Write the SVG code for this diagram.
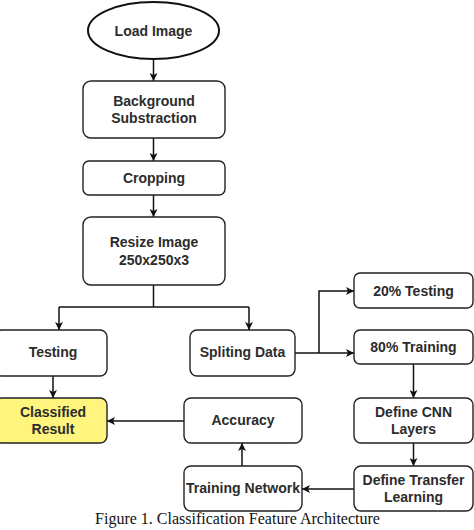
<svg xmlns="http://www.w3.org/2000/svg" width="474" height="530" viewBox="0 0 474 530">
<defs>
<style>
.n{fill:#fff;stroke:#222;stroke-width:1.4}
.y{fill:#fff47e}
.t{font-family:"Liberation Sans",Arial,sans-serif;font-size:14px;font-weight:bold;fill:#2c2c2c;text-anchor:middle}
.c{fill:none;stroke:#111;stroke-width:1.5}
.cap{font-family:"Liberation Serif","Times New Roman",serif;font-size:16px;fill:#111;text-anchor:middle}
</style>
<marker id="a" viewBox="0 0 10 10" refX="10" refY="5" markerWidth="8" markerHeight="8" markerUnits="userSpaceOnUse" orient="auto">
<path d="M0,0 L10,5 L0,10 L2.5,5 Z" fill="#111"/>
</marker>
</defs>
<rect width="474" height="530" fill="#fff"/>
<g id="connectors">
<path class="c" d="M153.5,59 V81" marker-end="url(#a)"/>
<path class="c" d="M153.5,138 V161" marker-end="url(#a)"/>
<path class="c" d="M153.5,195 V217" marker-end="url(#a)"/>
<path class="c" d="M153.5,285 V307"/>
<path class="c" d="M59,307 H249"/>
<path class="c" d="M59,307 V330" marker-end="url(#a)"/>
<path class="c" d="M249,307 V330" marker-end="url(#a)"/>
<path class="c" d="M295,353 H354" marker-end="url(#a)"/>
<path class="c" d="M319,353 V291 H354" marker-end="url(#a)"/>
<path class="c" d="M413.5,364 V398" marker-end="url(#a)"/>
<path class="c" d="M413.5,443 V466" marker-end="url(#a)"/>
<path class="c" d="M354,489 H302" marker-end="url(#a)"/>
<path class="c" d="M242,466 V443" marker-end="url(#a)"/>
<path class="c" d="M184,421 H107" marker-end="url(#a)"/>
<path class="c" d="M53,376 V398" marker-end="url(#a)"/>
</g>
<g id="load-image">
<ellipse cx="153.5" cy="30.5" rx="65.5" ry="28.5" fill="#fff" stroke="#111" stroke-width="2"/>
<text class="t" x="153.5" y="35.5">Load Image</text>
</g>
<g id="background-substraction">
<rect class="n" x="83" y="81" width="142" height="57" rx="8"/>
<text class="t" x="154" y="106">Background</text>
<text class="t" x="154" y="123">Substraction</text>
</g>
<g id="cropping">
<rect class="n" x="83" y="161" width="142" height="34" rx="6"/>
<text class="t" x="154" y="182.5">Cropping</text>
</g>
<g id="resize-image">
<rect class="n" x="83" y="217" width="142" height="68" rx="8"/>
<text class="t" x="154" y="247">Resize Image</text>
<text class="t" x="154" y="265">250x250x3</text>
</g>
<g id="testing">
<rect class="n" x="-5" y="330" width="112" height="46" rx="7"/>
<text class="t" x="53" y="357">Testing</text>
</g>
<g id="spliting-data">
<rect class="n" x="190" y="330" width="105" height="46" rx="7"/>
<text class="t" x="242.5" y="357">Spliting Data</text>
</g>
<g id="testing-20">
<rect class="n" x="354" y="273" width="119" height="35" rx="6"/>
<text class="t" x="413.5" y="295.5">20% Testing</text>
</g>
<g id="training-80">
<rect class="n" x="354" y="330" width="119" height="34" rx="6"/>
<text class="t" x="413.5" y="351.5">80% Training</text>
</g>
<g id="define-cnn-layers">
<rect class="n" x="354" y="398" width="119" height="45" rx="7"/>
<text class="t" x="413.5" y="417">Define CNN</text>
<text class="t" x="413.5" y="434">Layers</text>
</g>
<g id="define-transfer-learning">
<rect class="n" x="354" y="466" width="119" height="45" rx="7"/>
<text class="t" x="413.5" y="485">Define Transfer</text>
<text class="t" x="413.5" y="502">Learning</text>
</g>
<g id="training-network">
<rect class="n" x="184" y="466" width="118" height="45" rx="7"/>
<text class="t" x="243" y="493" textLength="114" lengthAdjust="spacingAndGlyphs">Training Network</text>
</g>
<g id="accuracy">
<rect class="n" x="184" y="398" width="118" height="45" rx="7"/>
<text class="t" x="243" y="425">Accuracy</text>
</g>
<g id="classified-result">
<rect class="n y" x="-5" y="398" width="112" height="45" rx="7"/>
<text class="t" x="53" y="417">Classified</text>
<text class="t" x="53" y="434">Result</text>
</g>
<text class="cap" x="237.5" y="524">Figure 1. Classification Feature Architecture</text>
</svg>
